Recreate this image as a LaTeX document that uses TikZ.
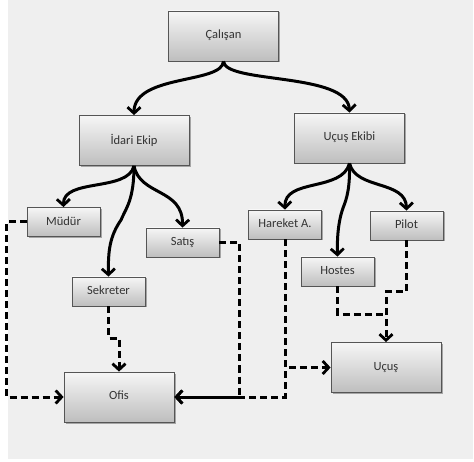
\documentclass[tikz,border=0pt]{standalone}
\usepackage{fontspec}
\setmainfont{Carlito}
\usetikzlibrary{arrows.meta,shadows,calc}
\definecolor{bg}{HTML}{EFEFEF}
\definecolor{boxtop}{HTML}{F6F6F6}
\definecolor{boxbot}{HTML}{BEBEBE}
\definecolor{boxline}{HTML}{555555}
\definecolor{txt}{HTML}{333333}
\tikzset{
  box/.style={draw=boxline, line width=0.8pt, top color=boxtop, bottom color=boxbot,
    inner sep=0pt, font=\fontsize{12.5}{14}\selectfont, text=txt,
    drop shadow={shadow xshift=1.5pt, shadow yshift=-1.5pt, opacity=0.45, fill=black!70}},
  big/.style={box, minimum width=110pt, minimum height=50pt},
  small/.style={box, minimum width=73pt, minimum height=29pt},
  tip/.style={-{Straight Barb[length=6pt,width=13pt,line width=2.8pt]}},
  solidcon/.style={tip, line width=3pt, black},
  dashline/.style={line width=3pt, black, dash pattern=on 7pt off 4pt},
  dashcon/.style={tip, dashline},
}
\begin{document}
\begin{tikzpicture}[x=1pt,y=-1pt]
\useasboundingbox (0,0) rectangle (474,462);
\fill[white] (0,0) rectangle (474,462);
\fill[bg] (8,0) rectangle (473,459);

\node[big] (cal) at (223.5,36) {\raisebox{3pt}{Çalışan}};
\node[big] (idari) at (134,140.5) {\raisebox{3pt}{İdari Ekip}};
\node[big] (ucek) at (349.5,138) {\raisebox{3pt}{Uçuş Ekibi}};
\node[small] (mudur) at (63.5,222) {\raisebox{2pt}{Müdür}};
\node[small] (satis) at (182.5,242.5) {\raisebox{2pt}{Satış}};
\node[small] (sek) at (108.5,291.5) {\raisebox{2pt}{Sekreter}};
\node[small] (hareket) at (285,224.5) {\raisebox{2pt}{Hareket A.}};
\node[small] (pilot) at (406.5,225.5) {\raisebox{2pt}{Pilot}};
\node[small] (hostes) at (337.5,271.5) {\raisebox{2pt}{Hostes}};
\node[big] (ofis) at (119,397) {\raisebox{3pt}{Ofis}};
\node[big] (ucus) at (386,367.5) {\raisebox{3pt}{Uçuş}};

% solid connectors
\draw[solidcon] (cal.south) .. controls (222,84) and (134,74) .. (idari.north);
\draw[solidcon] (cal.south) .. controls (225,84) and (348,72) .. (ucek.north);
\draw[solidcon] (idari.south) .. controls (128,192) and (63,178) .. (mudur.north);
\draw[solidcon] (idari.south) .. controls (140,196) and (183,188) .. (satis.north);
\draw[solidcon] (idari.south) .. controls (134,200) and (126,208) .. (121,220) .. controls (110,236) and (108,250) .. (sek.north);
\draw[solidcon] (ucek.south) .. controls (342,192) and (284,178) .. (hareket.north);
\draw[solidcon] (ucek.south) .. controls (356,190) and (406,180) .. (pilot.north);
\draw[solidcon] (ucek.south) .. controls (350,188) and (347,198) .. (343,208) .. controls (338,222) and (337,240) .. (hostes.north);

% dashed connectors
\draw[dashcon] (mudur.west) -- ++(-20,0) |- (ofis.west);
\draw[dashcon] (sek.south) -- ++(0,32) -| (ofis.north);
\draw[dashcon] (satis.east) -- ++(20,0) |- (ofis.east);
\draw[dashcon] (hareket.south) |- (ofis.east);
\draw[dashcon] (hareket.south) |- (ucus.west);
\coordinate (hj) at ($(ucus.north)+(0,-28)$);
\draw[dashline] (hostes.south) |- (hj);
\draw[dashcon] (pilot.south) -- ++(0,51) -| (ucus.north);
\end{tikzpicture}
\end{document}
